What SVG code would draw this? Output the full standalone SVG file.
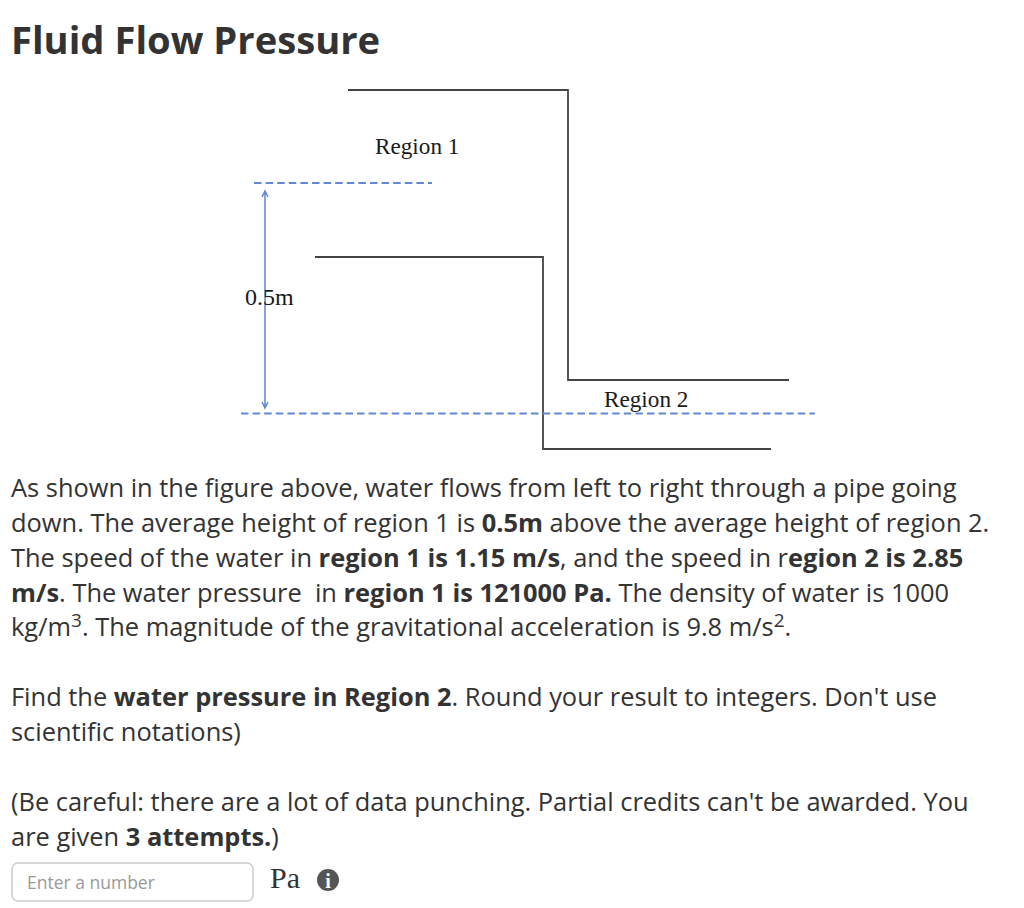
<svg xmlns="http://www.w3.org/2000/svg" width="1024" height="908" viewBox="0 0 1024 908">
<style>
text{font-family:"Open Sans","Noto Sans",sans-serif;fill:#333}
.b{font-size:25.430px;white-space:pre}
.s{font-weight:700}
.t{font-family:"Liberation Serif","Times New Roman",serif;fill:#1a1a1a;font-size:23.200px}
.p{fill:none;stroke:#444;stroke-width:1.800}
.d{fill:none;stroke:#6287d6;stroke-width:2;stroke-dasharray:7.500 4.100}
.a{fill:none;stroke:#6287d6;stroke-width:1.500}
</style>
<rect width="1024" height="908" fill="#fff"/>
<text x="11" y="54" font-size="38.200" font-weight="700">Fluid Flow Pressure</text>
<g id="connectors">
<path class="p" d="M348 90H568V380H789"/>
<path class="p" d="M315 257H543V449H771"/>
<path class="d" d="M254 183H432"/>
<path class="d" d="M241 413.500H815"/>
<path class="a" d="M265 191V408M262 197L265 191L268 197M262 402L265 408L268 402"/>
</g>
<g id="region1"><text class="t" x="375" y="154">Region 1</text></g>
<g id="region2"><text class="t" x="604" y="407">Region 2</text></g>
<g id="height"><text class="t" x="245" y="305" style="font-size:24px">0.5m</text></g>
<g id="body">
<text class="b" x="11" y="497">As shown in the figure above, water flows from left to right through a pipe going</text>
<text class="b" x="11" y="532">down. The average height of region 1 is <tspan class="s">0.5m</tspan> above the average height of region 2.</text>
<text class="b" x="11" y="567">The speed of the water in <tspan class="s">region 1 is 1.15 m/s</tspan>, and the speed in r<tspan class="s">egion 2 is 2.85</tspan></text>
<text class="b" x="11" y="602"><tspan class="s">m/s</tspan>. The water pressure  in <tspan class="s">region 1 is 121000 Pa.</tspan> The density of water is 1000</text>
<text class="b" x="11" y="636">kg/m<tspan font-size="19" dy="-9">3</tspan><tspan dy="9">. The magnitude of the gravitational acceleration is 9.8 m/s</tspan><tspan font-size="19" dy="-9">2</tspan><tspan dy="9">.</tspan></text>
<text class="b" x="11" y="706">Find the <tspan class="s">water pressure in Region 2</tspan>. Round your result to integers. Don't use</text>
<text class="b" x="11" y="741">scientific notations)</text>
<text class="b" x="11" y="811">(Be careful: there are a lot of data punching. Partial credits can't be awarded. You</text>
<text class="b" x="11" y="846">are given <tspan class="s">3 attempts.</tspan>)</text>
</g>
<g id="input">
<rect x="12" y="863" width="241" height="38" rx="6" fill="#fff" stroke="#ccc" stroke-width="1.500"/>
<text x="27" y="889" font-size="17.500" style="fill:#999">Enter a number</text>
</g>
<g id="unit"><text x="270" y="888" style="font-family:'Liberation Serif',serif;fill:#333" font-size="30">Pa</text></g>
<g id="info">
<circle cx="328" cy="880" r="11" fill="#555"/>
<text x="328" y="888" text-anchor="middle" font-size="20" style="font-family:'Liberation Serif',serif;fill:#fff" font-weight="700">i</text>
</g>
</svg>
